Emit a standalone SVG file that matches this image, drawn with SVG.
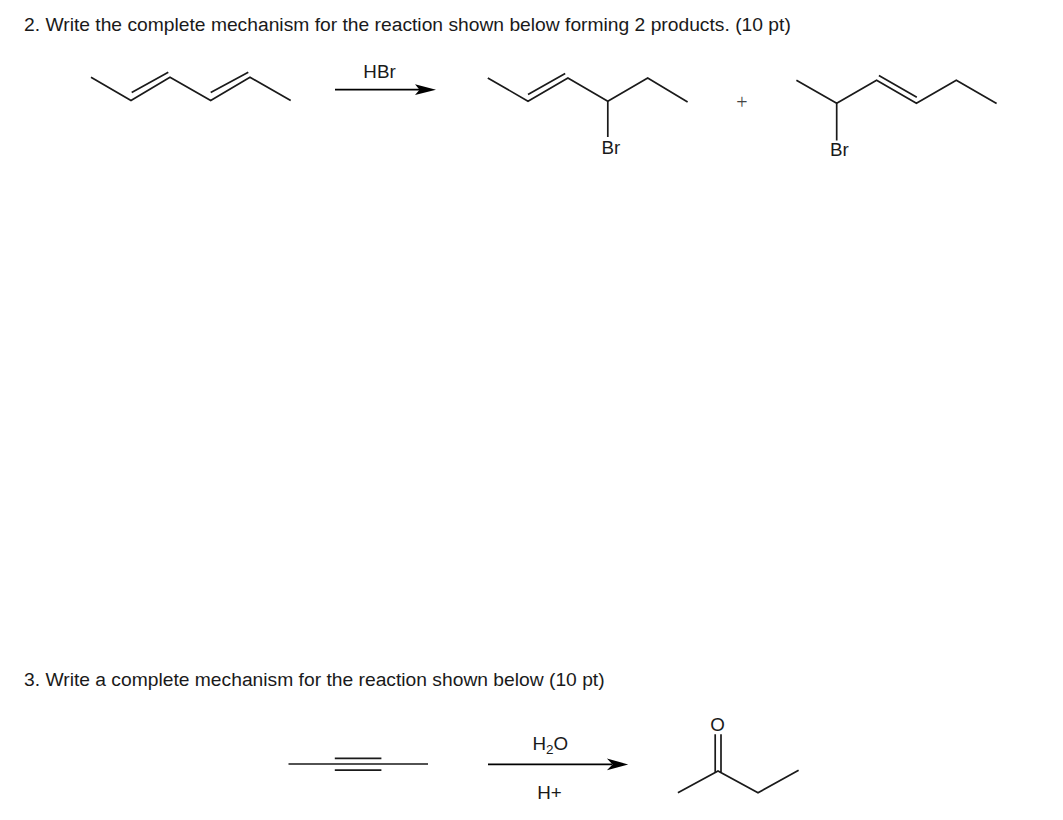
<svg xmlns="http://www.w3.org/2000/svg" width="1063" height="820" viewBox="0 0 1063 820">
<style>
text{font-family:"Liberation Sans",Arial,sans-serif;fill:#1a1a1a}
.q{font-size:19.25px}
.l{font-size:18.8px}
.s{font-size:13.5px}
.b{fill:none;stroke:#1a1a1a;stroke-width:1.7;stroke-linejoin:miter}
.a{fill:none;stroke:#000;stroke-width:1.8}
.h{fill:#000}
</style>
<rect width="1063" height="820" fill="#fff"/>
<g id="question-2"><text class="q" x="24" y="31">2. Write the complete mechanism for the reaction shown below forming 2 products. (10 pt)</text></g>
<g id="question-3"><text class="q" x="24" y="686">3. Write a complete mechanism for the reaction shown below (10 pt)</text></g>
<g id="hexadiene">
<path class="b" d="M91 77.3L131 100.5L170 77.3L210.7 100.5L250 77.3L290.7 100.5"/>
<path class="b" d="M131.7 92.5L168.3 72.3M210.7 92.5L248.3 72.3"/>
</g>
<g id="product-1">
<path class="b" d="M487.8 77.9L528 101.2L567.9 77.9L607.8 101.2L647.7 77.9L687.6 101.9"/>
<path class="b" d="M528 94.5L565.2 73.5M607.8 101.2V137"/>
<text class="l" x="601.5" y="154">Br</text>
</g>
<g id="plus"><text x="742" y="108.5" text-anchor="middle" style="font-family:'Liberation Serif',serif;font-size:20px;fill:#444">+</text></g>
<g id="product-2">
<path class="b" d="M796.4 80.3L836.7 103.3L876.6 80.3L916.4 103.3L956.3 80.3L996.6 103.6"/>
<path class="b" d="M878.9 75.6L916.8 97.2M836.7 103.3V140.5"/>
<text class="l" x="830" y="156">Br</text>
</g>
<g id="butyne">
<path class="b" d="M288.5 764H428M334.8 758.3H381.4M334.8 770.2H381.4"/>
</g>
<g id="butanone">
<path class="b" d="M677.9 792.8L718 770.9L758 792.8L798.6 770.2M715.2 772V734.3M721 772V734.3"/>
<text class="l" x="717.5" y="730.5" text-anchor="middle">O</text>
</g>
<g id="connectors">
<path class="a" d="M335 89.7H420"/>
<path class="h" d="M436 89.7L415 84.3L419.5 89.7L415 95Z"/>
<path class="a" d="M488 764.4H612"/>
<path class="h" d="M628.2 764.4L606.9 758.6L612.5 764.4L606.9 770.2Z"/>
</g>
<g id="reagents">
<text class="l" x="379.5" y="78" text-anchor="middle">HBr</text>
<text class="l" x="532.5" y="749.5">H<tspan class="s" dy="4">2</tspan><tspan dy="-4">O</tspan></text>
<text class="l" x="549.5" y="798.5" text-anchor="middle">H+</text>
</g>
</svg>
